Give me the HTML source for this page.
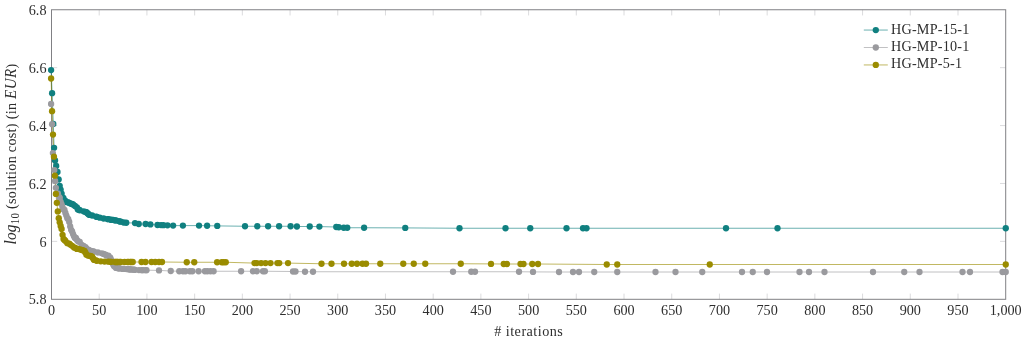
<!DOCTYPE html>
<html><head><meta charset="utf-8"><title>Solution cost vs iterations</title>
<style>
html,body{margin:0;padding:0;background:#fff;}
svg{display:block;}
text{font-family:"Liberation Serif",serif;font-size:14.2px;fill:#2e2e2e;}
.i{font-style:italic;font-size:15.2px;}
</style></head><body>
<svg width="1024" height="341" viewBox="0 0 1024 341">
<rect width="1024" height="341" fill="#fff"/>
<path d="M99.21,9.75 v5.7 M99.21,299.3 v-5.7 M146.92,9.75 v5.7 M146.92,299.3 v-5.7 M194.63,9.75 v5.7 M194.63,299.3 v-5.7 M242.34,9.75 v5.7 M242.34,299.3 v-5.7 M290.05,9.75 v5.7 M290.05,299.3 v-5.7 M337.76,9.75 v5.7 M337.76,299.3 v-5.7 M385.47,9.75 v5.7 M385.47,299.3 v-5.7 M433.18,9.75 v5.7 M433.18,299.3 v-5.7 M480.89,9.75 v5.7 M480.89,299.3 v-5.7 M528.60,9.75 v5.7 M528.60,299.3 v-5.7 M576.31,9.75 v5.7 M576.31,299.3 v-5.7 M624.02,9.75 v5.7 M624.02,299.3 v-5.7 M671.73,9.75 v5.7 M671.73,299.3 v-5.7 M719.44,9.75 v5.7 M719.44,299.3 v-5.7 M767.15,9.75 v5.7 M767.15,299.3 v-5.7 M814.86,9.75 v5.7 M814.86,299.3 v-5.7 M862.57,9.75 v5.7 M862.57,299.3 v-5.7 M910.28,9.75 v5.7 M910.28,299.3 v-5.7 M957.99,9.75 v5.7 M957.99,299.3 v-5.7 M51.5,67.66 h5.7 M1005.7,67.66 h-5.7 M51.5,125.57 h5.7 M1005.7,125.57 h-5.7 M51.5,183.48 h5.7 M1005.7,183.48 h-5.7 M51.5,241.39 h5.7 M1005.7,241.39 h-5.7" stroke="#d2d2d4" stroke-width="0.8" fill="none"/>
<rect x="51.5" y="9.75" width="954.20" height="289.55" fill="none" stroke="#808084" stroke-width="1"/>
<path d="M51.10,70.10 L52.10,93.20 L53.30,123.90 L54.10,147.85 L55.05,160.50 L56.20,166.00 L57.50,172.00 L58.65,179.45 L59.70,185.85 L60.65,189.55 L61.65,193.70 L62.90,198.00 L63.51,198.11 L64.47,200.58 L65.42,200.91 L66.37,202.03 L68.28,202.28 L69.24,203.02 L71.15,203.71 L72.10,204.06 L73.06,204.39 L74.97,205.94 L76.88,207.35 L77.83,209.55 L78.78,209.55 L79.74,210.25 L83.56,211.33 L85.47,211.90 L86.42,212.21 L87.38,213.14 L88.33,213.97 L89.29,214.93 L92.15,215.49 L95.97,216.57 L96.92,216.94 L99.79,217.67 L103.61,218.51 L107.42,219.04 L108.38,219.21 L110.29,219.53 L111.24,219.84 L112.20,219.97 L113.15,219.97 L115.06,220.44 L116.02,220.44 L118.88,221.03 L119.83,221.53 L120.79,221.53 L123.65,222.49 L126.25,222.75 L135.00,223.10 L138.75,224.00 L145.60,224.00 L150.40,224.40 L157.50,225.00 L161.00,225.10 L163.40,225.20 L167.50,225.30 L173.10,225.60 L182.90,225.60 L199.00,225.60 L207.10,225.75 L217.25,225.90 L245.00,226.25 L257.25,226.25 L268.10,226.25 L279.10,226.25 L290.60,226.25 L296.90,226.50 L309.75,226.50 L319.40,226.60 L336.25,227.00 L338.75,227.25 L343.75,227.75 L347.25,227.75 L364.10,227.75 L405.25,227.90 L459.50,228.25 L505.50,228.25 L530.25,228.25 L566.50,228.25 L583.00,228.25 L586.50,228.25 L726.00,228.25 L777.50,228.25 L1005.75,228.25" fill="none" stroke="#108080" stroke-width="0.62" stroke-linejoin="round"/>
<path d="M51.10,103.90 L52.10,124.20 L52.90,153.10 L54.30,170.10 L55.10,181.00 L55.90,187.80 L57.90,193.30 L59.30,197.25 L59.69,198.03 L60.65,201.98 L61.60,204.31 L62.56,207.39 L63.51,209.45 L64.47,209.93 L65.42,212.95 L66.37,215.62 L67.33,218.14 L68.28,219.14 L69.24,221.99 L70.19,226.49 L71.15,229.83 L72.10,231.42 L73.06,234.06 L74.01,236.35 L74.97,237.97 L75.92,237.97 L76.88,239.85 L77.83,241.08 L78.78,241.57 L79.74,241.84 L81.65,244.88 L83.56,245.94 L85.47,247.12 L86.42,248.77 L88.33,249.71 L89.29,250.38 L91.20,250.82 L93.10,251.40 L94.06,251.56 L97.88,252.52 L101.70,253.28 L103.61,253.94 L105.52,254.65 L106.47,255.54 L108.38,255.74 L110.29,257.73 L111.24,259.79 L112.20,261.49 L113.15,264.45 L114.11,266.18 L116.02,267.90 L117.93,268.15 L118.88,268.40 L119.83,268.40 L122.70,268.89 L123.65,268.90 L126.52,269.04 L128.43,269.19 L129.38,269.38 L130.34,269.38 L131.29,269.43 L133.20,269.64 L134.15,269.67 L135.11,269.78 L138.93,270.09 L141.79,270.13 L142.75,270.15 L145.61,270.19 L146.50,270.20 L159.00,270.40 L170.75,271.00 L179.25,271.25 L183.00,271.25 L185.50,271.25 L189.90,271.25 L192.40,271.25 L198.60,271.25 L204.90,271.25 L207.40,271.25 L210.50,271.25 L213.60,271.25 L241.10,271.25 L253.00,271.25 L256.75,271.25 L263.00,271.25 L264.90,271.25 L293.00,271.50 L295.50,271.50 L305.00,271.75 L313.00,271.75 L453.00,271.75 L471.25,271.75 L475.00,271.75 L519.00,271.75 L533.00,271.90 L559.00,272.00 L573.00,272.00 L579.00,272.00 L594.25,272.00 L617.25,272.00 L655.50,272.00 L675.50,272.00 L702.25,272.00 L742.00,272.00 L752.75,272.00 L767.00,272.00 L799.50,272.00 L809.00,272.00 L824.50,272.00 L873.00,272.00 L904.25,272.00 L919.50,272.00 L962.50,272.00 L970.00,272.00 L1002.50,272.00 L1005.75,272.00" fill="none" stroke="#9a9a9e" stroke-width="0.62" stroke-linejoin="round"/>
<path d="M51.10,78.50 L52.05,111.20 L53.00,134.60 L53.96,156.70 L54.90,175.70 L55.87,193.90 L56.83,202.80 L57.78,211.40 L58.74,218.20 L59.69,222.30 L60.65,226.00 L61.60,228.90 L62.56,234.80 L63.50,239.00 L64.47,239.89 L65.42,240.99 L67.33,243.21 L69.24,243.61 L70.19,244.55 L72.10,245.82 L74.01,247.54 L74.97,247.54 L76.88,248.89 L77.83,248.89 L79.74,249.35 L81.65,249.95 L82.60,250.26 L84.51,250.92 L85.47,252.68 L86.42,254.72 L88.33,255.64 L90.24,255.90 L91.20,256.50 L92.15,256.59 L93.10,258.49 L94.06,259.97 L95.97,260.36 L96.92,260.80 L100.74,261.30 L104.56,261.57 L108.38,261.71 L110.29,261.83 L111.24,261.83 L115.06,262.00 L116.02,262.00 L116.97,262.00 L117.93,262.00 L119.83,262.00 L120.79,262.00 L124.61,262.00 L127.47,262.00 L128.43,262.00 L130.34,262.00 L131.29,262.00 L132.75,262.00 L141.50,262.00 L145.50,262.00 L151.50,262.00 L155.25,262.00 L159.00,262.00 L162.00,262.00 L186.75,262.25 L194.25,262.25 L217.10,262.25 L221.75,262.25 L223.60,262.25 L225.75,262.25 L254.50,263.10 L256.75,263.10 L261.10,263.10 L265.50,263.10 L270.50,263.10 L277.40,263.10 L279.25,263.10 L288.00,263.10 L321.50,263.75 L331.50,263.75 L344.00,263.75 L351.75,263.75 L357.00,263.75 L362.50,263.75 L366.00,263.75 L380.25,263.75 L403.25,263.75 L413.75,263.75 L425.25,263.75 L460.75,263.75 L491.00,263.90 L503.75,264.00 L507.00,264.00 L520.50,264.00 L523.50,264.00 L532.25,264.00 L538.00,264.00 L606.75,264.50 L617.25,264.50 L709.75,264.50 L1005.75,264.50" fill="none" stroke="#9a8c00" stroke-width="0.62" stroke-linejoin="round"/>
<g fill="#108080"><circle cx="51.10" cy="70.10" r="3.15"/><circle cx="52.10" cy="93.20" r="3.15"/><circle cx="53.30" cy="123.90" r="3.15"/><circle cx="54.10" cy="147.85" r="3.15"/><circle cx="55.05" cy="160.50" r="3.15"/><circle cx="56.20" cy="166.00" r="3.15"/><circle cx="57.50" cy="172.00" r="3.15"/><circle cx="58.65" cy="179.45" r="3.15"/><circle cx="59.70" cy="185.85" r="3.15"/><circle cx="60.65" cy="189.55" r="3.15"/><circle cx="61.65" cy="193.70" r="3.15"/><circle cx="62.90" cy="198.00" r="3.15"/><circle cx="63.51" cy="198.11" r="3.15"/><circle cx="64.47" cy="200.58" r="3.15"/><circle cx="65.42" cy="200.91" r="3.15"/><circle cx="66.37" cy="202.03" r="3.15"/><circle cx="68.28" cy="202.28" r="3.15"/><circle cx="69.24" cy="203.02" r="3.15"/><circle cx="71.15" cy="203.71" r="3.15"/><circle cx="72.10" cy="204.06" r="3.15"/><circle cx="73.06" cy="204.39" r="3.15"/><circle cx="74.97" cy="205.94" r="3.15"/><circle cx="76.88" cy="207.35" r="3.15"/><circle cx="77.83" cy="209.55" r="3.15"/><circle cx="78.78" cy="209.55" r="3.15"/><circle cx="79.74" cy="210.25" r="3.15"/><circle cx="83.56" cy="211.33" r="3.15"/><circle cx="85.47" cy="211.90" r="3.15"/><circle cx="86.42" cy="212.21" r="3.15"/><circle cx="87.38" cy="213.14" r="3.15"/><circle cx="88.33" cy="213.97" r="3.15"/><circle cx="89.29" cy="214.93" r="3.15"/><circle cx="92.15" cy="215.49" r="3.15"/><circle cx="95.97" cy="216.57" r="3.15"/><circle cx="96.92" cy="216.94" r="3.15"/><circle cx="99.79" cy="217.67" r="3.15"/><circle cx="103.61" cy="218.51" r="3.15"/><circle cx="107.42" cy="219.04" r="3.15"/><circle cx="108.38" cy="219.21" r="3.15"/><circle cx="110.29" cy="219.53" r="3.15"/><circle cx="111.24" cy="219.84" r="3.15"/><circle cx="112.20" cy="219.97" r="3.15"/><circle cx="113.15" cy="219.97" r="3.15"/><circle cx="115.06" cy="220.44" r="3.15"/><circle cx="116.02" cy="220.44" r="3.15"/><circle cx="118.88" cy="221.03" r="3.15"/><circle cx="119.83" cy="221.53" r="3.15"/><circle cx="120.79" cy="221.53" r="3.15"/><circle cx="123.65" cy="222.49" r="3.15"/><circle cx="126.25" cy="222.75" r="3.15"/><circle cx="135.00" cy="223.10" r="3.15"/><circle cx="138.75" cy="224.00" r="3.15"/><circle cx="145.60" cy="224.00" r="3.15"/><circle cx="150.40" cy="224.40" r="3.15"/><circle cx="157.50" cy="225.00" r="3.15"/><circle cx="161.00" cy="225.10" r="3.15"/><circle cx="163.40" cy="225.20" r="3.15"/><circle cx="167.50" cy="225.30" r="3.15"/><circle cx="173.10" cy="225.60" r="3.15"/><circle cx="182.90" cy="225.60" r="3.15"/><circle cx="199.00" cy="225.60" r="3.15"/><circle cx="207.10" cy="225.75" r="3.15"/><circle cx="217.25" cy="225.90" r="3.15"/><circle cx="245.00" cy="226.25" r="3.15"/><circle cx="257.25" cy="226.25" r="3.15"/><circle cx="268.10" cy="226.25" r="3.15"/><circle cx="279.10" cy="226.25" r="3.15"/><circle cx="290.60" cy="226.25" r="3.15"/><circle cx="296.90" cy="226.50" r="3.15"/><circle cx="309.75" cy="226.50" r="3.15"/><circle cx="319.40" cy="226.60" r="3.15"/><circle cx="336.25" cy="227.00" r="3.15"/><circle cx="338.75" cy="227.25" r="3.15"/><circle cx="343.75" cy="227.75" r="3.15"/><circle cx="347.25" cy="227.75" r="3.15"/><circle cx="364.10" cy="227.75" r="3.15"/><circle cx="405.25" cy="227.90" r="3.15"/><circle cx="459.50" cy="228.25" r="3.15"/><circle cx="505.50" cy="228.25" r="3.15"/><circle cx="530.25" cy="228.25" r="3.15"/><circle cx="566.50" cy="228.25" r="3.15"/><circle cx="583.00" cy="228.25" r="3.15"/><circle cx="586.50" cy="228.25" r="3.15"/><circle cx="726.00" cy="228.25" r="3.15"/><circle cx="777.50" cy="228.25" r="3.15"/><circle cx="1005.75" cy="228.25" r="3.15"/></g>
<g fill="#9a9a9e"><circle cx="51.10" cy="103.90" r="3.15"/><circle cx="52.10" cy="124.20" r="3.15"/><circle cx="52.90" cy="153.10" r="3.15"/><circle cx="54.30" cy="170.10" r="3.15"/><circle cx="55.10" cy="181.00" r="3.15"/><circle cx="55.90" cy="187.80" r="3.15"/><circle cx="57.90" cy="193.30" r="3.15"/><circle cx="59.30" cy="197.25" r="3.15"/><circle cx="59.69" cy="198.03" r="3.15"/><circle cx="60.65" cy="201.98" r="3.15"/><circle cx="61.60" cy="204.31" r="3.15"/><circle cx="62.56" cy="207.39" r="3.15"/><circle cx="63.51" cy="209.45" r="3.15"/><circle cx="64.47" cy="209.93" r="3.15"/><circle cx="65.42" cy="212.95" r="3.15"/><circle cx="66.37" cy="215.62" r="3.15"/><circle cx="67.33" cy="218.14" r="3.15"/><circle cx="68.28" cy="219.14" r="3.15"/><circle cx="69.24" cy="221.99" r="3.15"/><circle cx="70.19" cy="226.49" r="3.15"/><circle cx="71.15" cy="229.83" r="3.15"/><circle cx="72.10" cy="231.42" r="3.15"/><circle cx="73.06" cy="234.06" r="3.15"/><circle cx="74.01" cy="236.35" r="3.15"/><circle cx="74.97" cy="237.97" r="3.15"/><circle cx="75.92" cy="237.97" r="3.15"/><circle cx="76.88" cy="239.85" r="3.15"/><circle cx="77.83" cy="241.08" r="3.15"/><circle cx="78.78" cy="241.57" r="3.15"/><circle cx="79.74" cy="241.84" r="3.15"/><circle cx="81.65" cy="244.88" r="3.15"/><circle cx="83.56" cy="245.94" r="3.15"/><circle cx="85.47" cy="247.12" r="3.15"/><circle cx="86.42" cy="248.77" r="3.15"/><circle cx="88.33" cy="249.71" r="3.15"/><circle cx="89.29" cy="250.38" r="3.15"/><circle cx="91.20" cy="250.82" r="3.15"/><circle cx="93.10" cy="251.40" r="3.15"/><circle cx="94.06" cy="251.56" r="3.15"/><circle cx="97.88" cy="252.52" r="3.15"/><circle cx="101.70" cy="253.28" r="3.15"/><circle cx="103.61" cy="253.94" r="3.15"/><circle cx="105.52" cy="254.65" r="3.15"/><circle cx="106.47" cy="255.54" r="3.15"/><circle cx="108.38" cy="255.74" r="3.15"/><circle cx="110.29" cy="257.73" r="3.15"/><circle cx="111.24" cy="259.79" r="3.15"/><circle cx="112.20" cy="261.49" r="3.15"/><circle cx="113.15" cy="264.45" r="3.15"/><circle cx="114.11" cy="266.18" r="3.15"/><circle cx="116.02" cy="267.90" r="3.15"/><circle cx="117.93" cy="268.15" r="3.15"/><circle cx="118.88" cy="268.40" r="3.15"/><circle cx="119.83" cy="268.40" r="3.15"/><circle cx="122.70" cy="268.89" r="3.15"/><circle cx="123.65" cy="268.90" r="3.15"/><circle cx="126.52" cy="269.04" r="3.15"/><circle cx="128.43" cy="269.19" r="3.15"/><circle cx="129.38" cy="269.38" r="3.15"/><circle cx="130.34" cy="269.38" r="3.15"/><circle cx="131.29" cy="269.43" r="3.15"/><circle cx="133.20" cy="269.64" r="3.15"/><circle cx="134.15" cy="269.67" r="3.15"/><circle cx="135.11" cy="269.78" r="3.15"/><circle cx="138.93" cy="270.09" r="3.15"/><circle cx="141.79" cy="270.13" r="3.15"/><circle cx="142.75" cy="270.15" r="3.15"/><circle cx="145.61" cy="270.19" r="3.15"/><circle cx="146.50" cy="270.20" r="3.15"/><circle cx="159.00" cy="270.40" r="3.15"/><circle cx="170.75" cy="271.00" r="3.15"/><circle cx="179.25" cy="271.25" r="3.15"/><circle cx="183.00" cy="271.25" r="3.15"/><circle cx="185.50" cy="271.25" r="3.15"/><circle cx="189.90" cy="271.25" r="3.15"/><circle cx="192.40" cy="271.25" r="3.15"/><circle cx="198.60" cy="271.25" r="3.15"/><circle cx="204.90" cy="271.25" r="3.15"/><circle cx="207.40" cy="271.25" r="3.15"/><circle cx="210.50" cy="271.25" r="3.15"/><circle cx="213.60" cy="271.25" r="3.15"/><circle cx="241.10" cy="271.25" r="3.15"/><circle cx="253.00" cy="271.25" r="3.15"/><circle cx="256.75" cy="271.25" r="3.15"/><circle cx="263.00" cy="271.25" r="3.15"/><circle cx="264.90" cy="271.25" r="3.15"/><circle cx="293.00" cy="271.50" r="3.15"/><circle cx="295.50" cy="271.50" r="3.15"/><circle cx="305.00" cy="271.75" r="3.15"/><circle cx="313.00" cy="271.75" r="3.15"/><circle cx="453.00" cy="271.75" r="3.15"/><circle cx="471.25" cy="271.75" r="3.15"/><circle cx="475.00" cy="271.75" r="3.15"/><circle cx="519.00" cy="271.75" r="3.15"/><circle cx="533.00" cy="271.90" r="3.15"/><circle cx="559.00" cy="272.00" r="3.15"/><circle cx="573.00" cy="272.00" r="3.15"/><circle cx="579.00" cy="272.00" r="3.15"/><circle cx="594.25" cy="272.00" r="3.15"/><circle cx="617.25" cy="272.00" r="3.15"/><circle cx="655.50" cy="272.00" r="3.15"/><circle cx="675.50" cy="272.00" r="3.15"/><circle cx="702.25" cy="272.00" r="3.15"/><circle cx="742.00" cy="272.00" r="3.15"/><circle cx="752.75" cy="272.00" r="3.15"/><circle cx="767.00" cy="272.00" r="3.15"/><circle cx="799.50" cy="272.00" r="3.15"/><circle cx="809.00" cy="272.00" r="3.15"/><circle cx="824.50" cy="272.00" r="3.15"/><circle cx="873.00" cy="272.00" r="3.15"/><circle cx="904.25" cy="272.00" r="3.15"/><circle cx="919.50" cy="272.00" r="3.15"/><circle cx="962.50" cy="272.00" r="3.15"/><circle cx="970.00" cy="272.00" r="3.15"/><circle cx="1002.50" cy="272.00" r="3.15"/><circle cx="1005.75" cy="272.00" r="3.15"/></g>
<g fill="#9a8c00"><circle cx="51.10" cy="78.50" r="3.15"/><circle cx="52.05" cy="111.20" r="3.15"/><circle cx="53.00" cy="134.60" r="3.15"/><circle cx="53.96" cy="156.70" r="3.15"/><circle cx="54.90" cy="175.70" r="3.15"/><circle cx="55.87" cy="193.90" r="3.15"/><circle cx="56.83" cy="202.80" r="3.15"/><circle cx="57.78" cy="211.40" r="3.15"/><circle cx="58.74" cy="218.20" r="3.15"/><circle cx="59.69" cy="222.30" r="3.15"/><circle cx="60.65" cy="226.00" r="3.15"/><circle cx="61.60" cy="228.90" r="3.15"/><circle cx="62.56" cy="234.80" r="3.15"/><circle cx="63.50" cy="239.00" r="3.15"/><circle cx="64.47" cy="239.89" r="3.15"/><circle cx="65.42" cy="240.99" r="3.15"/><circle cx="67.33" cy="243.21" r="3.15"/><circle cx="69.24" cy="243.61" r="3.15"/><circle cx="70.19" cy="244.55" r="3.15"/><circle cx="72.10" cy="245.82" r="3.15"/><circle cx="74.01" cy="247.54" r="3.15"/><circle cx="74.97" cy="247.54" r="3.15"/><circle cx="76.88" cy="248.89" r="3.15"/><circle cx="77.83" cy="248.89" r="3.15"/><circle cx="79.74" cy="249.35" r="3.15"/><circle cx="81.65" cy="249.95" r="3.15"/><circle cx="82.60" cy="250.26" r="3.15"/><circle cx="84.51" cy="250.92" r="3.15"/><circle cx="85.47" cy="252.68" r="3.15"/><circle cx="86.42" cy="254.72" r="3.15"/><circle cx="88.33" cy="255.64" r="3.15"/><circle cx="90.24" cy="255.90" r="3.15"/><circle cx="91.20" cy="256.50" r="3.15"/><circle cx="92.15" cy="256.59" r="3.15"/><circle cx="93.10" cy="258.49" r="3.15"/><circle cx="94.06" cy="259.97" r="3.15"/><circle cx="95.97" cy="260.36" r="3.15"/><circle cx="96.92" cy="260.80" r="3.15"/><circle cx="100.74" cy="261.30" r="3.15"/><circle cx="104.56" cy="261.57" r="3.15"/><circle cx="108.38" cy="261.71" r="3.15"/><circle cx="110.29" cy="261.83" r="3.15"/><circle cx="111.24" cy="261.83" r="3.15"/><circle cx="115.06" cy="262.00" r="3.15"/><circle cx="116.02" cy="262.00" r="3.15"/><circle cx="116.97" cy="262.00" r="3.15"/><circle cx="117.93" cy="262.00" r="3.15"/><circle cx="119.83" cy="262.00" r="3.15"/><circle cx="120.79" cy="262.00" r="3.15"/><circle cx="124.61" cy="262.00" r="3.15"/><circle cx="127.47" cy="262.00" r="3.15"/><circle cx="128.43" cy="262.00" r="3.15"/><circle cx="130.34" cy="262.00" r="3.15"/><circle cx="131.29" cy="262.00" r="3.15"/><circle cx="132.75" cy="262.00" r="3.15"/><circle cx="141.50" cy="262.00" r="3.15"/><circle cx="145.50" cy="262.00" r="3.15"/><circle cx="151.50" cy="262.00" r="3.15"/><circle cx="155.25" cy="262.00" r="3.15"/><circle cx="159.00" cy="262.00" r="3.15"/><circle cx="162.00" cy="262.00" r="3.15"/><circle cx="186.75" cy="262.25" r="3.15"/><circle cx="194.25" cy="262.25" r="3.15"/><circle cx="217.10" cy="262.25" r="3.15"/><circle cx="221.75" cy="262.25" r="3.15"/><circle cx="223.60" cy="262.25" r="3.15"/><circle cx="225.75" cy="262.25" r="3.15"/><circle cx="254.50" cy="263.10" r="3.15"/><circle cx="256.75" cy="263.10" r="3.15"/><circle cx="261.10" cy="263.10" r="3.15"/><circle cx="265.50" cy="263.10" r="3.15"/><circle cx="270.50" cy="263.10" r="3.15"/><circle cx="277.40" cy="263.10" r="3.15"/><circle cx="279.25" cy="263.10" r="3.15"/><circle cx="288.00" cy="263.10" r="3.15"/><circle cx="321.50" cy="263.75" r="3.15"/><circle cx="331.50" cy="263.75" r="3.15"/><circle cx="344.00" cy="263.75" r="3.15"/><circle cx="351.75" cy="263.75" r="3.15"/><circle cx="357.00" cy="263.75" r="3.15"/><circle cx="362.50" cy="263.75" r="3.15"/><circle cx="366.00" cy="263.75" r="3.15"/><circle cx="380.25" cy="263.75" r="3.15"/><circle cx="403.25" cy="263.75" r="3.15"/><circle cx="413.75" cy="263.75" r="3.15"/><circle cx="425.25" cy="263.75" r="3.15"/><circle cx="460.75" cy="263.75" r="3.15"/><circle cx="491.00" cy="263.90" r="3.15"/><circle cx="503.75" cy="264.00" r="3.15"/><circle cx="507.00" cy="264.00" r="3.15"/><circle cx="520.50" cy="264.00" r="3.15"/><circle cx="523.50" cy="264.00" r="3.15"/><circle cx="532.25" cy="264.00" r="3.15"/><circle cx="538.00" cy="264.00" r="3.15"/><circle cx="606.75" cy="264.50" r="3.15"/><circle cx="617.25" cy="264.50" r="3.15"/><circle cx="709.75" cy="264.50" r="3.15"/><circle cx="1005.75" cy="264.50" r="3.15"/></g>
<text transform="translate(51.50,314.70) scale(1,1.08)" text-anchor="middle">0</text><text transform="translate(99.21,314.70) scale(1,1.08)" text-anchor="middle">50</text><text transform="translate(146.92,314.70) scale(1,1.08)" text-anchor="middle">100</text><text transform="translate(194.63,314.70) scale(1,1.08)" text-anchor="middle">150</text><text transform="translate(242.34,314.70) scale(1,1.08)" text-anchor="middle">200</text><text transform="translate(290.05,314.70) scale(1,1.08)" text-anchor="middle">250</text><text transform="translate(337.76,314.70) scale(1,1.08)" text-anchor="middle">300</text><text transform="translate(385.47,314.70) scale(1,1.08)" text-anchor="middle">350</text><text transform="translate(433.18,314.70) scale(1,1.08)" text-anchor="middle">400</text><text transform="translate(480.89,314.70) scale(1,1.08)" text-anchor="middle">450</text><text transform="translate(528.60,314.70) scale(1,1.08)" text-anchor="middle">500</text><text transform="translate(576.31,314.70) scale(1,1.08)" text-anchor="middle">550</text><text transform="translate(624.02,314.70) scale(1,1.08)" text-anchor="middle">600</text><text transform="translate(671.73,314.70) scale(1,1.08)" text-anchor="middle">650</text><text transform="translate(719.44,314.70) scale(1,1.08)" text-anchor="middle">700</text><text transform="translate(767.15,314.70) scale(1,1.08)" text-anchor="middle">750</text><text transform="translate(814.86,314.70) scale(1,1.08)" text-anchor="middle">800</text><text transform="translate(862.57,314.70) scale(1,1.08)" text-anchor="middle">850</text><text transform="translate(910.28,314.70) scale(1,1.08)" text-anchor="middle">900</text><text transform="translate(957.99,314.70) scale(1,1.08)" text-anchor="middle">950</text><text transform="translate(1005.70,314.70) scale(1,1.08)" text-anchor="middle">1,000</text>
<text transform="translate(46.50,14.90) scale(1,1.08)" text-anchor="end">6.8</text><text transform="translate(46.50,72.81) scale(1,1.08)" text-anchor="end">6.6</text><text transform="translate(46.50,130.72) scale(1,1.08)" text-anchor="end">6.4</text><text transform="translate(46.50,188.63) scale(1,1.08)" text-anchor="end">6.2</text><text transform="translate(46.50,246.54) scale(1,1.08)" text-anchor="end">6</text><text transform="translate(46.50,304.45) scale(1,1.08)" text-anchor="end">5.8</text>
<text transform="translate(528.50,335.70) scale(1,1.08)" text-anchor="middle" textLength="68.6" lengthAdjust="spacing"># iterations</text>
<text transform="translate(15.7,154.2) rotate(-90) scale(1,1.08)" text-anchor="middle" textLength="180.8" lengthAdjust="spacing"><tspan class="i">log</tspan><tspan font-size="11" dy="3.5">10</tspan><tspan dy="-3.5"> (solution cost) (in </tspan><tspan class="i">EUR</tspan>)</text>
<path d="M863.8,30.05 H887.8" stroke="#108080" stroke-width="0.62"/><circle cx="875.8" cy="30.05" r="3.15" fill="#108080"/><text transform="translate(891.00,33.55) scale(1,1.08)" text-anchor="start" textLength="78.4" lengthAdjust="spacing">HG-MP-15-1</text>
<path d="M863.8,47.50 H887.8" stroke="#9a9a9e" stroke-width="0.62"/><circle cx="875.8" cy="47.50" r="3.15" fill="#9a9a9e"/><text transform="translate(891.00,51.00) scale(1,1.08)" text-anchor="start" textLength="78.4" lengthAdjust="spacing">HG-MP-10-1</text>
<path d="M863.8,64.95 H887.8" stroke="#9a8c00" stroke-width="0.62"/><circle cx="875.8" cy="64.95" r="3.15" fill="#9a8c00"/><text transform="translate(891.00,68.45) scale(1,1.08)" text-anchor="start" textLength="71.0" lengthAdjust="spacing">HG-MP-5-1</text>
</svg>
</body></html>
